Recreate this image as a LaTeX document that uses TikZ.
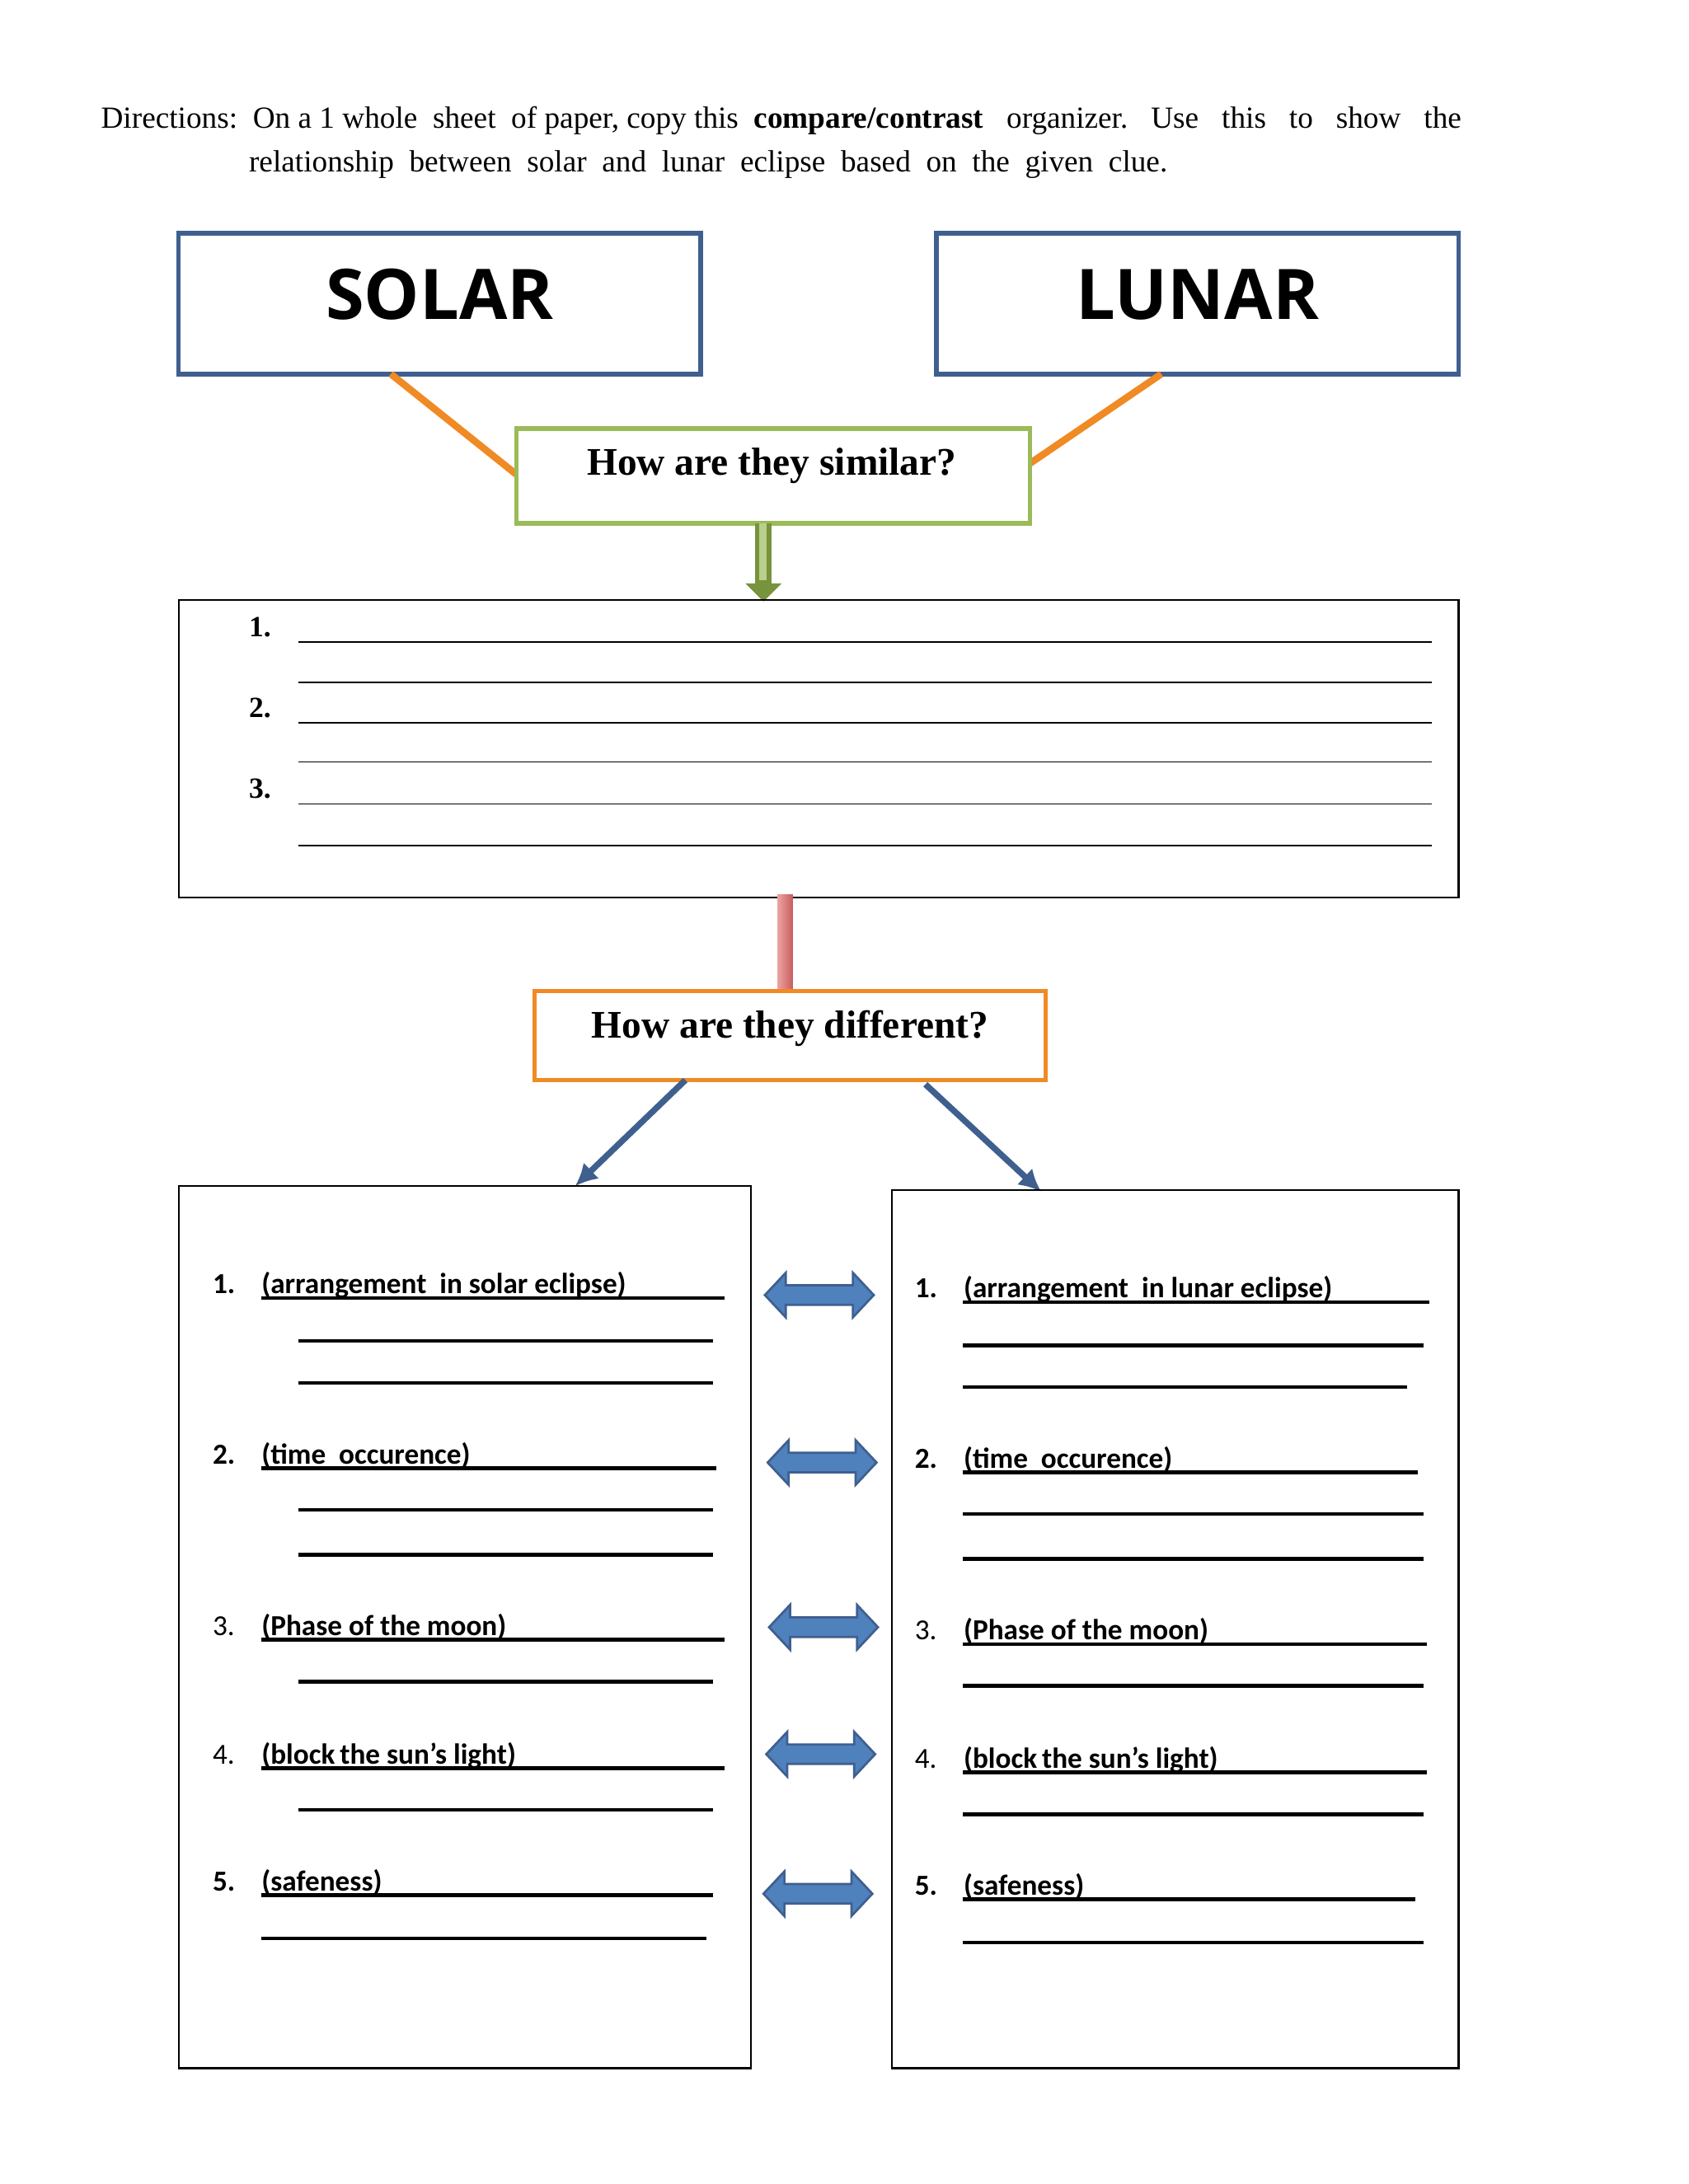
\documentclass[tikz,border=0pt]{standalone}
\usepackage{fontspec}
\usetikzlibrary{arrows.meta}
\setmainfont{Liberation Serif}
\newfontfamily\calib{Carlito}
\newfontfamily\heavy{Open Sans}
\begin{document}
\begin{tikzpicture}[x=0.5pt,y=-0.5pt]
\definecolor{boxblue}{HTML}{3F5F8F}
\definecolor{org}{HTML}{F08A24}
\definecolor{grn}{HTML}{9BBB59}
\definecolor{dgrn}{HTML}{77933C}
\definecolor{arblue}{HTML}{4F81BD}
\definecolor{redc}{HTML}{E06666}
\tikzset{
 titlebox/.style={draw=boxblue,line width=1.6pt},
 ruleline/.style={line width=0.5pt},
 wline/.style={line width=1.3pt},
 itemtxt/.style={anchor=base west,inner sep=0pt,font=\calib\bfseries\fontsize{10.4}{12}\selectfont},
 itemnum/.style={anchor=base west,inner sep=0pt,font=\calib\fontsize{10.4}{12}\selectfont},
 dirtxt/.style={anchor=base west,inner sep=0pt,font=\fontsize{11}{13}\selectfont},
 qtxt/.style={font=\bfseries\fontsize{14}{16}\selectfont,inner sep=0pt},
 numtxt/.style={anchor=base west,inner sep=0pt,font=\bfseries\fontsize{10.5}{12}\selectfont},
 dblarrow/.style={fill=arblue,draw=boxblue,line width=0.8pt}
}
\useasboundingbox (0,0) rectangle (1210,1565);
\fill[white] (0,0) rectangle (1210,1565);
% directions
\node[dirtxt] (d1) at (72,92) {Directions:\ \ On a 1 whole\ \ sheet\ \ of paper, copy this\ \ \textbf{compare/contrast}\ \ \ organizer.\ \ \ Use\ \ \ this\ \ \ to\ \ \ show\ \ \ the};
\node[dirtxt] (d2) at (178,123) {relationship\ \ between\ \ solar\ \ and\ \ lunar\ \ eclipse\ \ based\ \ on\ \ the\ \ given\ \ clue.};
% title boxes
\draw[titlebox] (128,167) rectangle (502,268);
\node[font=\heavy\bfseries\fontsize{25}{28}\selectfont] (solar) at (315,211) {SOLAR};
\draw[titlebox] (671,167) rectangle (1045,268);
\node[font=\heavy\bfseries\fontsize{25}{28}\selectfont] (lunar) at (858,211) {LUNAR};
\coordinate (sb) at (280,268);
\coordinate (lb) at (832,268);
% orange connectors
\coordinate (sl) at (370,340);
\coordinate (sr) at (738,332);
\draw[org,line width=2.5pt] (sb) -- (sl);
\draw[org,line width=2.5pt] (lb) -- (sr);
% similar box
\draw[grn,line width=1.6pt,fill=white] (370,307) rectangle (738,375);
\node[qtxt] (sim) at (553,334) {How are they similar?};
% green arrow
\fill[dgrn] (541,375) rectangle (553,418);
\fill[dgrn] (534,418) -- (560,418) -- (547,431) -- cycle;
\fill[grn!70] (544,375) rectangle (549,416);
% box 1
\draw[line width=0.6pt] (128,430) rectangle (1045,643);
\foreach \y in {460,489,518,546,576,606} \draw[ruleline] (214,\y) -- (1026,\y);
\node[numtxt] (n1) at (178,456) {1.};
\node[numtxt] (n2) at (178,514) {2.};
\node[numtxt] (n3) at (178,572) {3.};
% red connector
\shade[left color=redc!60!white,right color=redc!90!black] (557,641) rectangle (568,710);
% different box
\draw[org,line width=1.6pt,fill=white] (383,710) rectangle (749,774);
\node[qtxt] (dif) at (566,737) {How are they different?};
% blue arrows
\draw[boxblue,line width=2.2pt,-{Latex[length=8pt,width=8pt]}] (491,774) -- (412,850);
\draw[boxblue,line width=2.2pt,-{Latex[length=8pt,width=8pt]}] (663,777) -- (746,854);
% lower boxes
\draw[line width=0.6pt] (128,850) rectangle (538,1482);
\draw[line width=0.6pt] (639,853) rectangle (1045,1482);
% left items
\node[itemtxt] at (152,927) {1.};
\node[itemtxt] at (187,927) {(arrangement\ \ in solar eclipse)};
\draw[wline] (187,930) -- (519,930); \draw[wline] (214,961) -- (511,961); \draw[wline] (214,991) -- (511,991);
\node[itemtxt] at (152,1049) {2.};
\node[itemtxt] at (187,1049) {(time\ \ occurence)};
\draw[wline] (187,1052) -- (513,1052); \draw[wline] (214,1082) -- (511,1082); \draw[wline] (214,1114) -- (511,1114);
\node[itemnum] at (152,1172) {3.};
\node[itemtxt] at (187,1172) {(Phase of the moon)};
\draw[wline] (187,1175) -- (519,1175); \draw[wline] (214,1205) -- (511,1205);
\node[itemnum] at (152,1264) {4.};
\node[itemtxt] at (187,1264) {(block\,the sun’s light)};
\draw[wline] (187,1267) -- (519,1267); \draw[wline] (214,1297) -- (511,1297);
\node[itemtxt] at (152,1355) {5.};
\node[itemtxt] at (187,1355) {(safeness)};
\draw[wline] (187,1358) -- (511,1358); \draw[wline] (187,1389) -- (506,1389);
% right items
\node[itemtxt] at (655,930) {1.};
\node[itemtxt] at (690,930) {(arrangement\ \ in lunar eclipse)};
\draw[wline] (690,933) -- (1024,933); \draw[wline] (690,964) -- (1020,964); \draw[wline] (690,994) -- (1008,994);
\node[itemtxt] at (655,1052) {2.};
\node[itemtxt] at (690,1052) {(time\ \ occurence)};
\draw[wline] (690,1055) -- (1016,1055); \draw[wline] (690,1085) -- (1020,1085); \draw[wline] (690,1117) -- (1020,1117);
\node[itemnum] at (655,1175) {3.};
\node[itemtxt] at (690,1175) {(Phase of the moon)};
\draw[wline] (690,1178) -- (1022,1178); \draw[wline] (690,1208) -- (1020,1208);
\node[itemnum] at (655,1267) {4.};
\node[itemtxt] at (690,1267) {(block\,the sun’s light)};
\draw[wline] (690,1270) -- (1022,1270); \draw[wline] (690,1300) -- (1020,1300);
\node[itemtxt] at (655,1358) {5.};
\node[itemtxt] at (690,1358) {(safeness)};
\draw[wline] (690,1361) -- (1014,1361); \draw[wline] (690,1392) -- (1020,1392);
% double arrows
\foreach \cx/\cy in {587/928, 589/1048, 590/1166, 588/1257, 586/1357}{
 \draw[dblarrow] (\cx-39,\cy) -- (\cx-24,\cy-16) -- (\cx-24,\cy-7) -- (\cx+24,\cy-7) -- (\cx+24,\cy-16) -- (\cx+39,\cy) -- (\cx+24,\cy+16) -- (\cx+24,\cy+7) -- (\cx-24,\cy+7) -- (\cx-24,\cy+16) -- cycle;
}
\end{tikzpicture}
\end{document}
